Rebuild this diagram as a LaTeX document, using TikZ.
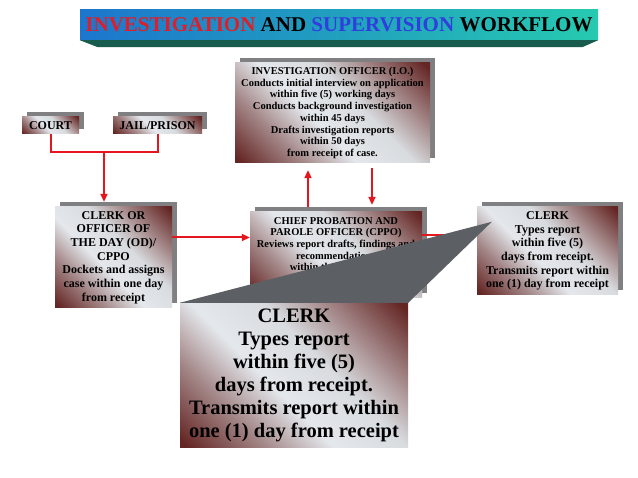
\documentclass[tikz,border=0pt]{standalone}
\usepackage{fontspec}
\setmainfont{Liberation Serif}
\usetikzlibrary{arrows.meta,shadows,calc,positioning}

\definecolor{metalbrown}{RGB}{100,38,36}
\definecolor{metallight}{RGB}{228,232,236}
\definecolor{shadowgray}{RGB}{128,128,130}
\definecolor{linkred}{RGB}{228,22,30}
\definecolor{titleblue}{RGB}{28,118,205}
\definecolor{titleteal}{RGB}{38,202,176}
\definecolor{titlefoot}{RGB}{24,92,78}
\definecolor{calloutgray}{RGB}{92,96,100}
\definecolor{wordred}{RGB}{222,30,42}
\definecolor{wordblue}{RGB}{48,62,222}

% brushed metal: dark corners, light diagonal band
\pgfdeclareverticalshading{metal}{100bp}{color(0bp)=(metalbrown); color(16bp)=(metalbrown); color(31bp)=(metalbrown!50!metallight); color(44bp)=(metallight); color(58bp)=(metallight!88!gray); color(70bp)=(metalbrown!50!metallight); color(84bp)=(metalbrown); color(100bp)=(metalbrown)}

\begin{document}
\begin{tikzpicture}[x=1pt,y=-1pt,>={Triangle[length=8pt,width=7pt]}]

    \tikzstyle{commonNode}=[font=\bfseries, align=center, inner sep=0pt]
    \tikzstyle{plainMetal}=[commonNode, rectangle, shading=metal, shading angle=-45]
    \tikzstyle{metalBox}=[plainMetal, drop shadow={shadow xshift=5pt, shadow yshift=5pt, fill=shadowgray, opacity=1}]
    \tikzstyle{link}=[draw=linkred, line width=2pt]
    \tikzstyle{tinyText}=[font=\bfseries\fontsize{10.5}{11.7}\selectfont]
    \tikzstyle{smallText}=[font=\bfseries\fontsize{12}{13.7}\selectfont]
    \tikzstyle{bigText}=[font=\bfseries\fontsize{20.5}{23}\selectfont]

    % Page
    \fill[white] (0,0) rectangle (638,478);
    \useasboundingbox (0,0) rectangle (638,478);

    % Title
    \node at (339,25) [commonNode, left color=titleblue, right color=titleteal,
        minimum width=518pt, minimum height=30pt, font=\bfseries\fontsize{21}{24}\selectfont] (title)
        {{\color{wordred}INVESTIGATION} AND {\color{wordblue}SUPERVISION} WORKFLOW};
    \fill[titlefoot] (title.south west) -- (title.south east) -- ++(-16,7) -- ($(title.south west)+(18,7)$) -- cycle;

    % Sources
    \node at (50.5,125.5)  [metalBox, smallText, minimum width=57pt, minimum height=17pt] (court) {COURT};
    \node at (157.5,125.5) [metalBox, smallText, minimum width=89pt, minimum height=17pt] (jail)  {JAIL/PRISON};

    % Offices
    \node at (332.5,113) [metalBox, tinyText, minimum width=195pt, minimum height=100pt] (io)
        {INVESTIGATION OFFICER (I.O.)\\ Conducts initial interview on application\\ within five (5) working days\\
         Conducts background investigation\\ within 45 days\\ Drafts investigation reports\\ within 50 days\\ from receipt of case.};
    \node at (113.5,257.5) [metalBox, smallText, minimum width=117pt, minimum height=101pt] (clerkod)
        {CLERK OR\\ OFFICER OF\\ THE DAY (OD)/\\ CPPO\\ Dockets and assigns\\ case within one day\\ from receipt};
    \node at (336,255) [metalBox, tinyText, minimum width=172pt, minimum height=86pt, text depth=22pt] (cppo)
        {CHIEF PROBATION AND\\ PAROLE OFFICER (CPPO)\\ Reviews report drafts, findings and\\ recommendations\\ within three (3) days};
    \node at (547.5,251) [metalBox, smallText, minimum width=141pt, minimum height=88pt] (clerk)
        {CLERK\\ Types report\\ within five (5)\\ days from receipt.\\ Transmits report within\\ one (1) day from receipt};

    % Connectors
    \coordinate (merge) at ($(court.south)!0.5!(jail.south)+(0,18)$);
    \draw[link] (court.south) |- (merge) -| (jail.south);
    \draw[link, ->, shorten >=5pt] (merge) -- (merge |- clerkod.north);
    \draw[link, ->] ([yshift=20pt]clerkod.east) -- ([yshift=20pt]clerkod.east -| cppo.west);
    \draw[link, ->, shorten <=5pt, shorten >=7pt] ([xshift=-28pt]cppo.north) -- ([xshift=-28pt]cppo.north |- io.south);
    \draw[link, ->, shorten <=5pt, shorten >=7pt] ([xshift=36pt]cppo.north |- io.south) -- ([xshift=36pt]cppo.north);
    \draw[link, ->] ([yshift=20pt]cppo.east) -- ([yshift=20pt]cppo.east -| clerk.west);

    % Zoomed clerk
    \node at (294,375.5) [plainMetal, bigText, minimum width=228pt, minimum height=145pt] (zoom)
        {CLERK\\ Types report\\ within five (5)\\ days from receipt.\\ Transmits report within\\ one (1) day from receipt};
    \fill[calloutgray] (zoom.north west) -- ($(clerk.north west)+(15,15)$) -- (zoom.north east) -- cycle;

\end{tikzpicture}
\end{document}
